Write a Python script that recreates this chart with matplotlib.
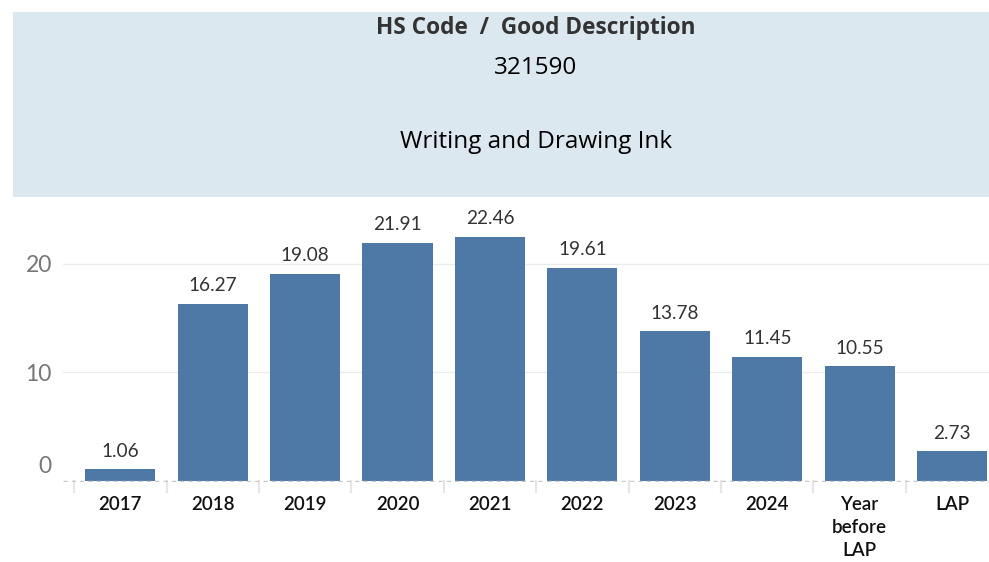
import matplotlib.pyplot as plt
import numpy as np

categories = ['2017', '2018', '2019', '2020', '2021', '2022', '2023', '2024', 'Year\nbefore\nLAP', 'LAP']
values = [1.06, 16.27, 19.08, 21.91, 22.46, 19.61, 13.78, 11.45, 10.55, 2.73]
yticks = [0, 10, 20]

plt.rcParams['font.family'] = ['Lato', 'DejaVu Sans']

W, H = 989, 562
fig = plt.figure(figsize=(W / 100, H / 100), dpi=100)

# header panel
hdr = fig.add_axes([13 / W, 1 - 197 / H, (W - 13) / W, (197 - 12) / H])
hdr.set_facecolor('#dce8ef')
hdr.set_xticks([])
hdr.set_yticks([])
for s in hdr.spines.values():
    s.set_visible(False)
cx = (536 - 13) / (W - 13)
hfam = ['Open Sans', 'DejaVu Sans']
hdr.text(cx, 1 - (28 - 12) / 185, 'HS Code  /  Good Description', ha='center', va='center',
         fontsize=16.3, fontweight='bold', color='#333333', family=hfam,
         transform=hdr.transAxes)
hdr.text(cx, 1 - (68 - 12) / 185, '321590', ha='center', va='center', fontsize=17.5,
         color='#000000', family=hfam, transform=hdr.transAxes)
hdr.text(cx, 1 - (142 - 12) / 185, 'Writing and Drawing Ink', ha='center', va='center',
         fontsize=17.5, color='#000000', family=hfam, transform=hdr.transAxes)

# bar chart
ax_l, ax_r, ax_t, ax_b = 63, 989, 205, 482
ax = fig.add_axes([ax_l / W, 1 - ax_b / H, (ax_r - ax_l) / W, (ax_b - ax_t) / H])
x = np.arange(len(categories))
ax.bar(x, values, width=0.76, color='#4e79a7', zorder=3)
for xi, v in zip(x, values):
    ax.annotate(f'{v:.2f}', (xi, v), xytext=(0, 7), textcoords='offset points',
                ha='center', va='bottom', fontsize=13.7, color='#333333')

ax.set_xlim(-0.62, len(categories) - 1 + 0.4)
ax.set_ylim(-0.1, 25.4)
ax.set_yticks(yticks[1:])
ax.set_yticklabels([str(t) for t in yticks[1:]], fontsize=16.5, color='#777777')
ax.tick_params(axis='y', length=0, pad=8)
# Tableau lifts the bottom label above the baseline
ax.annotate(str(yticks[0]), (-0.62, 0), xytext=(-8, 3), textcoords='offset points',
            ha='right', va='bottom', fontsize=16.5, color='#777777', annotation_clip=False)
ax.set_xticks(x)
ax.set_xticklabels(categories, fontsize=13.5, color='#111111', fontweight='semibold',
                   linespacing=1.45)
ax.tick_params(axis='x', length=0, pad=10)
for t in yticks[1:]:
    ax.axhline(t, color='#ebebeb', lw=1, zorder=1)
ax.axhline(0, color='#c8c8c8', lw=1, ls=(0, (3, 3)), zorder=4)

# category dividers below baseline
for b in np.arange(-0.5, len(categories) - 1, 1.0):
    ax.plot([b, b], [0, -1.0], color='#e6e6e6', lw=1.5, clip_on=False, zorder=1)

for s in ax.spines.values():
    s.set_visible(False)

fig.savefig('out.png', dpi=100)
